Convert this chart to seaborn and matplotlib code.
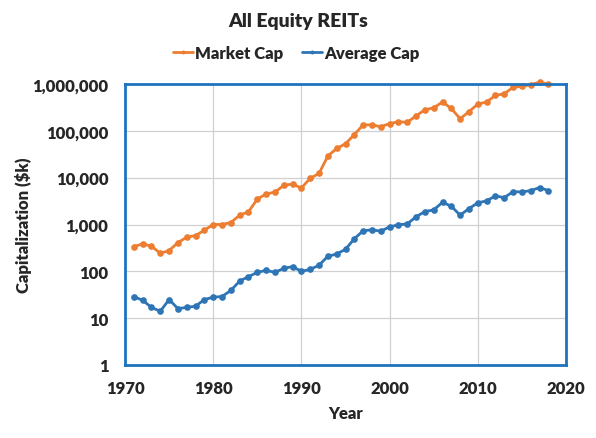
import numpy as np
import pandas as pd
import matplotlib
matplotlib.use("Agg")
import matplotlib.pyplot as plt
import matplotlib.ticker as mticker
import seaborn as sns

years = list(range(1971, 2019))
market_cap = [338, 385, 344, 243, 277, 411, 536, 581, 755, 1000,
              1000, 1100, 1580, 1870, 3480, 4500, 4900, 6850, 7300, 6000,
              9700, 12300, 29000, 42000, 53000, 83000, 134000, 134000, 122000, 143000,
              156000, 152000, 209000, 281000, 310000, 414000, 300000, 181000, 258000, 370000,
              414000, 570000, 620000, 850000, 890000, 965000, 1100000, 980000]
average_cap = [29, 24, 17, 14, 25, 16, 17, 18, 25, 28,
               29, 39, 62, 77, 95, 105, 95, 116, 126, 100,
               110, 135, 210, 234, 296, 496, 735, 770, 720, 890,
               985, 1030, 1460, 1890, 2050, 2980, 2450, 1580, 2190, 2900,
               3200, 4080, 3750, 5030, 4950, 5300, 6140, 5300]
series_names = ["Market Cap", "Average Cap"]
title = "All Equity REITs"

df = pd.DataFrame({
    "Year": years * 2,
    "Cap": market_cap + average_cap,
    "Series": [series_names[0]] * len(years) + [series_names[1]] * len(years),
})

sns.set_theme(style="white")
plt.rcParams["font.family"] = ["Lato", "DejaVu Sans"]
plt.rcParams["font.weight"] = "heavy"
W = "heavy"

fig = plt.figure(figsize=(5.96, 4.39), dpi=100)
ax = fig.add_axes([125 / 596, 1 - 366 / 439, (566 - 125) / 596, (366 - 85) / 439])

palette = {"Market Cap": "#ED7D31", "Average Cap": "#2E75B6"}
sns.lineplot(data=df, x="Year", y="Cap", hue="Series", palette=palette,
             marker="o", markersize=4.8, markeredgewidth=0, linewidth=2,
             ax=ax, legend=True, clip_on=False)

ax.set_yscale("log")
ax.set_ylim(1, 1e6)
ax.set_xlim(1970, 2020)
ax.set_xticks([1970, 1980, 1990, 2000, 2010, 2020])
ax.yaxis.set_major_locator(mticker.FixedLocator([1, 10, 100, 1000, 1e4, 1e5, 1e6]))
ax.yaxis.set_minor_locator(mticker.NullLocator())
ax.yaxis.set_major_formatter(mticker.FuncFormatter(lambda v, p: f"{int(round(v)):,}"))

ax.grid(True, color="#D0D0D0", linewidth=0.9)
for s in ax.spines.values():
    s.set_color("#1F73BE")
    s.set_linewidth(2)
    s.set_visible(True)

ax.tick_params(axis="y", labelsize=12, length=0, pad=12)
ax.tick_params(axis="x", labelsize=12, length=0, pad=11)
for lab in ax.get_xticklabels() + ax.get_yticklabels():
    lab.set_fontweight(W)

ax.set_xlabel("Year", fontsize=12, fontweight=W, labelpad=6)
ax.set_ylabel("Capitalization ($k)", fontsize=12, fontweight=W, labelpad=0)

fig.suptitle(title, x=0.5, y=1 - 21 / 439, va="center", fontsize=14, fontweight=W)

handles, labels = ax.get_legend_handles_labels()
ax.legend_.remove()
leg = fig.legend(handles, labels, loc="center", bbox_to_anchor=(0.497, 1 - 54 / 439),
                 ncol=2, frameon=False, fontsize=12, handlelength=1.2,
                 handletextpad=0.15, columnspacing=1.1, markerscale=0.6)
for t in leg.get_texts():
    t.set_fontweight(W)

fig.savefig("out.png", dpi=100)
